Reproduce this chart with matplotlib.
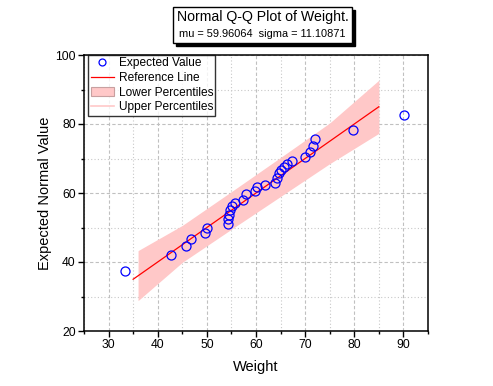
import matplotlib
matplotlib.use('Agg')
import matplotlib.pyplot as plt
from matplotlib.patches import Rectangle, Patch
from matplotlib.lines import Line2D
from matplotlib.ticker import MultipleLocator

plt.rcParams['font.family'] = ['Liberation Sans', 'DejaVu Sans']

# Data
weight = [33.3, 42.7, 45.8, 46.8, 49.7, 50.1, 54.3, 54.4, 54.5, 54.75,
          55.2, 55.8, 57.3, 57.9, 59.8, 60.3, 61.9, 63.9, 64.2, 64.6,
          65.0, 65.6, 66.4, 67.3, 70.0, 71.0, 71.6, 72.0, 79.8, 90.1]
expected = [37.5, 42.0, 44.6, 46.6, 48.3, 49.8, 50.9, 52.4, 53.6, 55.1,
            56.1, 57.2, 58.0, 59.7, 60.7, 61.7, 62.3, 63.0, 64.3, 65.9,
            66.6, 67.6, 68.3, 69.3, 70.5, 72.0, 73.6, 75.6, 78.3, 82.6]
ref_x = [35, 85]
ref_y = [35, 85]
band_x = [36, 45, 55, 65, 75, 85]
band_upper = [43.3, 50.6, 60.4, 70.3, 80.3, 92.7]
band_lower = [28.8, 39.9, 49.5, 59.0, 68.5, 77.3]

W, H = 493, 386
fig = plt.figure(figsize=(W / 100, H / 100), dpi=100)
ax = fig.add_axes([84 / W, 1 - 331 / H, (428 - 84) / W, (331 - 55) / H])

pink = '#ffc8c8'
ax.fill_between(band_x, band_lower, band_upper, color=pink, linewidth=0, zorder=1)
ax.plot(ref_x, ref_y, color='red', linewidth=0.9, zorder=3)
ax.plot(weight, expected, 'o', markerfacecolor='none', markeredgecolor='blue',
        markersize=6.5, markeredgewidth=0.9, zorder=4)

ax.set_xlim(25, 95)
ax.set_ylim(20, 100)
ax.xaxis.set_major_locator(MultipleLocator(10))
ax.xaxis.set_minor_locator(MultipleLocator(5))
ax.yaxis.set_major_locator(MultipleLocator(20))
ax.yaxis.set_minor_locator(MultipleLocator(10))
ax.grid(which='major', color='#c0c0c0', linestyle=(0, (3, 2)), linewidth=0.8, zorder=0)
ax.grid(which='minor', color='#c8c8c8', linestyle=(0, (1, 2)), linewidth=0.8, zorder=0)
ax.set_axisbelow(True)
ax.tick_params(which='major', direction='out', length=4, width=1, labelsize=8.7, pad=2)
ax.tick_params(which='minor', direction='out', length=2.5, width=1)
for s in ax.spines.values():
    s.set_linewidth(1.1)

ax.set_xlabel('Weight', fontsize=10.5, labelpad=6)
ax.set_ylabel('Expected Normal Value', fontsize=10.5, labelpad=2)

handles = [
    Line2D([], [], marker='o', linestyle='none', markerfacecolor='none',
           markeredgecolor='blue', markersize=5, markeredgewidth=0.9),
    Line2D([], [], color='red', linewidth=0.9),
    Patch(facecolor=pink, edgecolor='#c8a0a0', linewidth=0.8),
    Line2D([], [], color=pink, linewidth=1.2),
]
labels = ['Expected Value', 'Reference Line', 'Lower Percentiles', 'Upper Percentiles']
leg = ax.legend(handles, labels, loc='upper left', bbox_to_anchor=(0.012, 1.0),
                fontsize=8.6, frameon=True, fancybox=False, borderpad=0.2,
                labelspacing=0.22, handlelength=2.0, handletextpad=0.35,
                borderaxespad=0)
leg.get_frame().set_edgecolor('black')
leg.get_frame().set_linewidth(1.0)

# Title box with shadow
def fx(px):
    return px / W

def fy(py):
    return 1 - py / H

bx0, bx1, by0, by1 = 173, 352, 7, 43
fig.patches.append(Rectangle((fx(bx0 + 3), fy(by1 + 3)), fx(bx1 - bx0), (by1 - by0) / H,
                             transform=fig.transFigure, facecolor='black',
                             edgecolor='black', zorder=1))
fig.patches.append(Rectangle((fx(bx0), fy(by1)), fx(bx1 - bx0), (by1 - by0) / H,
                             transform=fig.transFigure, facecolor='white',
                             edgecolor='black', linewidth=1, zorder=2))
fig.text(fx(262.5), fy(17.5), 'Normal Q-Q Plot of Weight.', ha='center', va='center',
         fontsize=10.2, zorder=3)
fig.text(fx(262.5), fy(34), 'mu = 59.96064  sigma = 11.10871', ha='center', va='center',
         fontsize=7.9, zorder=3)

fig.savefig('out.png', dpi=100, facecolor='white')
